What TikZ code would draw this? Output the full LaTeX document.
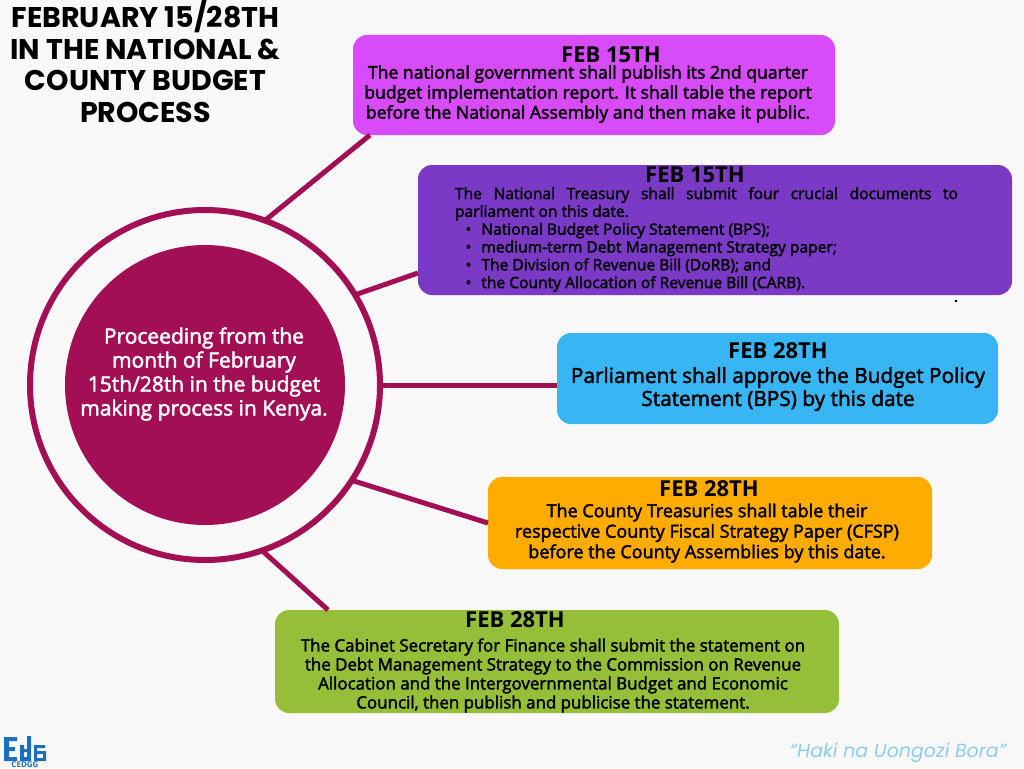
\documentclass[tikz,border=0pt]{standalone}
\usepackage{fontspec}
\setmainfont{Open Sans}
\newfontfamily\titlefont{Poppins}
\newfontfamily\medfont{Open Sans}[FakeBold=2.2]
\definecolor{pagegray}{HTML}{F8F8F8}
\definecolor{ringred}{HTML}{A30F55}
\definecolor{pinkbox}{HTML}{D84BFB}
\definecolor{purplebox}{HTML}{7B3AC6}
\definecolor{bluebox}{HTML}{38B6F4}
\definecolor{orangebox}{HTML}{FFAB00}
\definecolor{greenbox}{HTML}{95BF39}
\definecolor{logoblue}{HTML}{1E6FBA}
\definecolor{mottoblue}{HTML}{8FCBEE}
\newcommand{\bulletline}[1]{\hspace*{10.5pt}\textbullet\hspace{10pt}#1}
\begin{document}
\begin{tikzpicture}[
x=1pt, y=-1pt,
 datebox/.style = {rectangle, rounded corners=14pt, minimum width=#1,
                   outer sep=0pt, inner sep=0pt},
  boxhead/.style = {font=\fontsize{22}{24}\selectfont\bfseries, text=black, inner sep=0pt},
  boxtext/.style = {align=center, text=black, inner sep=0pt},
 linkline/.style = {draw=ringred, line width=5pt},
                        ]
\path[use as bounding box, fill=pagegray] (0,0) rectangle (1024,768);
\node[circle, draw=ringred, line width=6pt, minimum size=350pt, outer sep=0pt, inner sep=0pt]
    (ring) at (205,385) {};
\node[circle, fill=ringred, minimum size=280pt, outer sep=0pt, inner sep=0pt]
    (hub) at (205,385) {};
\node[boxtext, text=white, font=\medfont\fontsize{21}{24}\selectfont]
    (hubtext) at (204,374) {Proceeding from the\\ month of February\\ 15th/28th in the budget\\ making process in Kenya.};
\node[align=center, inner sep=0pt, font=\titlefont\fontsize{28.5}{31.5}\selectfont\bfseries]
    (title) at (145.5,61.5) {FEBRUARY 15/28TH\\ IN THE NATIONAL \&\\ COUNTY BUDGET\\ PROCESS};
% the five boxes
\node[datebox=482pt, minimum height=100pt, fill=pinkbox]   (pink)   at (594,85) {};
\node[datebox=594pt, minimum height=130pt, fill=purplebox] (purple) at (715,230) {};
\node[datebox=441pt, minimum height=91pt,  fill=bluebox]   (blue)   at (777.5,378.5) {};
\node[datebox=444pt, minimum height=92pt,  fill=orangebox] (orange) at (710,523) {};
\node[datebox=564pt, minimum height=103pt, fill=greenbox]  (green)  at (557,661.5) {};
% links
\draw[linkline] (ring.70)  -- ([xshift=17pt]pink.south west);
\draw[linkline] (ring.31)  -- ([yshift=-43pt]purple.west);
\draw[linkline] (ring.east) -- (ring.east -| blue.west);
\draw[linkline] (ring.-33) -- (orange.west);
\draw[linkline] (ring.-71) -- ([xshift=53pt]green.north west);
% box contents
\node[boxhead] (pinkhead) at (611,55) {FEB 15TH};
\node[boxtext, font=\medfont\fontsize{17.6}{20}\selectfont] (pinktext) at (588,94)
    {The national government shall publish its 2nd quarter\\
     budget implementation report. It shall table the report\\
     before the National Assembly and then make it public.};
\node[boxhead] (purplehead) at (695,175) {FEB 15TH};
\node[text width=503pt, align=justify, inner sep=0pt, text=black,
      font=\medfont\fontsize{15.6}{17.8}\selectfont] (purpletext) at (706.5,239.5)
    {The National Treasury shall submit four crucial documents to\linebreak parliament on this date.\\
     \bulletline{National Budget Policy Statement (BPS);}\\
     \bulletline{medium-term Debt Management Strategy paper;}\\
     \bulletline{The Division of Revenue Bill (DoRB); and}\\
     \bulletline{the County Allocation of Revenue Bill (CARB).}};
\node[inner sep=0pt, font=\bfseries\fontsize{14}{14}\selectfont] (dot) at (956,302) {.};
\node[boxhead] (bluehead) at (778,351) {FEB 28TH};
\node[boxtext, font=\medfont\fontsize{20.8}{23}\selectfont] (bluetext) at (778,389)
    {Parliament shall approve the Budget Policy\\ Statement (BPS) by this date};
\node[boxhead] (orangehead) at (709,489) {FEB 28TH};
\node[boxtext, font=\medfont\fontsize{18}{20.5}\selectfont] (orangetext) at (707,533)
    {The County Treasuries shall table their\\
     respective County Fiscal Strategy Paper (CFSP)\\
     before the County Assemblies by this date.};
\node[boxhead] (greenhead) at (515,620) {FEB 28TH};
\node[boxtext, font=\medfont\fontsize{16.9}{19}\selectfont] (greentext) at (553,675.5)
    {The Cabinet Secretary for Finance shall submit the statement on\\
     the Debt Management Strategy to the Commission on Revenue\\
     Allocation and the Intergovernmental Budget and Economic\\
     Council, then publish and publicise the statement.};
\node[inner sep=0pt, text=mottoblue, font=\titlefont\fontsize{19}{21}\selectfont\itshape]
    (motto) at (898,753) {“Haki na Uongozi Bora”};
% logo mark
\fill[logoblue] (4,737) rectangle (17,741) (4,737) rectangle (9,761) (4,747) rectangle (15,751)
    (4,757) rectangle (17,761) (20,745) rectangle (24,761) (20,749) rectangle (31,752)
    (27,736) rectangle (31,761) (20,757) rectangle (31,761) (34,745) rectangle (37,761)
    (34,751) rectangle (46,754) (34,758) rectangle (46,761) (43,751) rectangle (46,761)
    (34,745) rectangle (45,748);
\node[inner sep=0pt, text=logoblue, font=\fontsize{8}{8}\selectfont\bfseries] (logotext) at (25,765) {CEDGG};
\end{tikzpicture}
\end{document}
